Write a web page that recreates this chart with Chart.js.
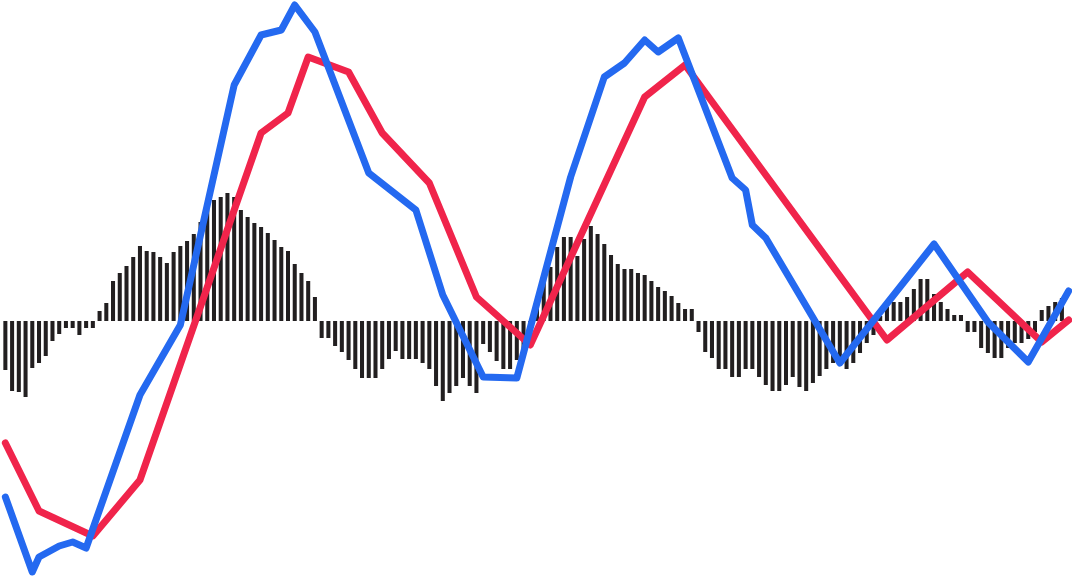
<!DOCTYPE html>
<html>
<head>
<meta charset="utf-8">
<script src="https://cdn.jsdelivr.net/npm/chart.js@4/dist/chart.umd.min.js"></script>
<style>
  html, body { margin: 0; padding: 0; background: #fff; }
  #wrap { width: 1072px; height: 578px; position: relative; }
</style>
</head>
<body>
<div id="wrap"><canvas id="myChart"></canvas></div>
<script>
// histogram, one value per period (159 periods)
var histValues = [
  -0.49, -0.70, -0.71, -0.76, -0.47, -0.42, -0.35, -0.20, -0.13, -0.07,
  -0.07, -0.14, -0.07, -0.07, 0.10, 0.18, 0.40, 0.48, 0.55, 0.64,
  0.75, 0.70, 0.69, 0.64, 0.58, 0.69, 0.75, 0.80, 0.87, 0.99,
  1.12, 1.21, 1.24, 1.28, 1.24, 1.11, 1.04, 0.98, 0.94, 0.88,
  0.81, 0.74, 0.70, 0.57, 0.48, 0.40, 0.24, -0.17, -0.17, -0.25,
  -0.31, -0.39, -0.48, -0.57, -0.57, -0.57, -0.48, -0.38, -0.30, -0.38,
  -0.38, -0.38, -0.42, -0.48, -0.65, -0.80, -0.72, -0.65, -0.57, -0.65,
  -0.72, -0.23, -0.31, -0.40, -0.48, -0.48, -0.39, -0.32, -0.06, 0.25,
  0.41, 0.54, 0.74, 0.84, 0.84, 0.65, 0.82, 0.95, 0.87, 0.77,
  0.66, 0.57, 0.52, 0.52, 0.48, 0.46, 0.40, 0.34, 0.30, 0.25,
  0.18, 0.12, 0.12, -0.11, -0.31, -0.37, -0.48, -0.48, -0.56, -0.56,
  -0.48, -0.48, -0.56, -0.64, -0.70, -0.70, -0.64, -0.56, -0.66, -0.70,
  -0.62, -0.55, -0.48, -0.42, -0.42, -0.48, -0.42, -0.32, -0.22, -0.14,
  0.05, 0.14, 0.19, 0.19, 0.24, 0.32, 0.42, 0.42, 0.27, 0.19,
  0.12, 0.06, 0.06, -0.11, -0.11, -0.27, -0.32, -0.37, -0.37, -0.27,
  -0.22, -0.22, -0.18, -0.11, 0.11, 0.15, 0.19, 0.23, null
];

// red line: period index of each turning point and its value
var redIdx = [0, 5, 13, 20, 38, 42, 45, 51, 56, 63, 70, 78, 95, 101, 131, 143, 154, 158];
var redVal = [-1.22, -1.90, -2.15, -1.59, 1.88, 2.08, 2.64, 2.49, 1.88, 1.38, 0.24, -0.24, 2.24, 2.56, -0.19, 0.49, -0.21, 0.01];

// blue line: same idea
var blueIdx = [0, 4, 5, 8, 10, 12, 20, 26, 34, 38, 41, 43, 46, 54, 61, 65, 71, 76, 84, 89, 92, 95, 97, 100, 108, 110, 111, 113, 124, 138, 146, 152, 158];
var blueVal = [-1.76, -2.51, -2.36, -2.25, -2.21, -2.27, -0.74, -0.04, 2.36, 2.86, 2.91, 3.16, 2.89, 1.48, 1.11, 0.26, -0.56, -0.57, 1.44, 2.44, 2.58, 2.81, 2.69, 2.83, 1.43, 1.31, 0.96, 0.83, -0.42, 0.77, -0.01, -0.41, 0.30];

var labels = [];
for (var i = 0; i < histValues.length; i++) {
  labels.push(i + 1);
}

function toSeries(idx, vals, length) {
  var out = [];
  for (var i = 0; i < length; i++) out.push(null);
  for (var j = 0; j < idx.length; j++) out[idx[j]] = vals[j];
  return out;
}

var lineModel = {
  type: 'line',
  borderWidth: 7,
  pointRadius: 0,
  pointHoverRadius: 0,
  tension: 0,
  spanGaps: true,
  fill: false,
  borderCapStyle: 'round',
  borderJoinStyle: 'round'
};

var blueLine = Object.assign({}, lineModel, {
  label: 'Blue',
  borderColor: '#2469f0',
  data: toSeries(blueIdx, blueVal, labels.length),
  order: 1
});

var redLine = Object.assign({}, lineModel, {
  label: 'Red',
  borderColor: '#f0244b',
  data: toSeries(redIdx, redVal, labels.length),
  order: 2
});

var hist = {
  type: 'bar',
  label: 'Histogram',
  backgroundColor: '#221f20',
  borderWidth: 0,
  barPercentage: 0.6,
  categoryPercentage: 1,
  data: histValues,
  order: 3
};

var ctx = document.getElementById('myChart');
var myChart = new Chart(ctx, {
  type: 'bar',
  data: {
    labels: labels,
    datasets: [blueLine, redLine, hist]
  },
  options: {
    responsive: true,
    maintainAspectRatio: false,
    animation: false,
    layout: { padding: { left: 2, right: 0, top: 0, bottom: 0 } },
    plugins: {
      legend: { display: false },
      tooltip: { enabled: false }
    },
    scales: {
      x: { display: false, offset: true },
      y: { display: false, min: -2.57, max: 3.21 }
    }
  }
});
</script>
</body>
</html>
